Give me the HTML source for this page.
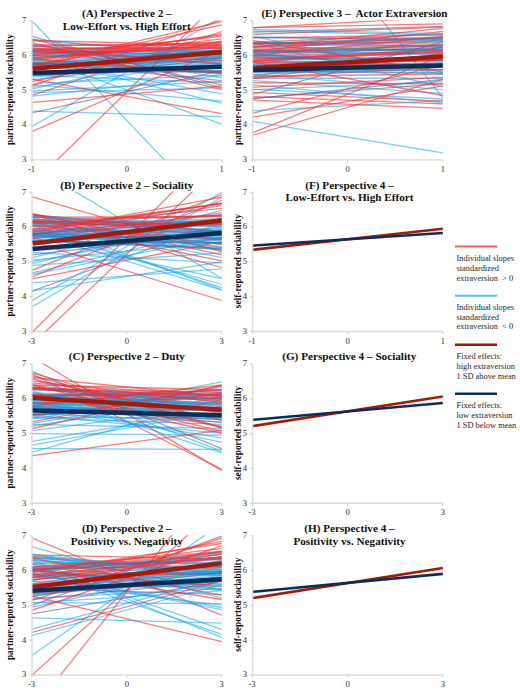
<!DOCTYPE html><html><head><meta charset="utf-8"><style>html,body{margin:0;padding:0;background:#fff}svg{display:block}</style></head><body>
<svg width="520" height="692" viewBox="0 0 520 692">
<rect width="520" height="692" fill="#fff"/>
<clipPath id="clipA"><rect x="32.7" y="20.2" width="190.0" height="139.5"/></clipPath>
<g stroke="#d9d9d9" stroke-width="1.4" fill="none">
<path d="M32.0 20.7V159.89999999999998H221.7"/>
<path d="M29.5 159.9H32.0"/>
<path d="M29.5 125.1H32.0"/>
<path d="M29.5 90.3H32.0"/>
<path d="M29.5 55.5H32.0"/>
<path d="M29.5 20.7H32.0"/>
<path d="M32.0 159.89999999999998V162.39999999999998"/>
<path d="M126.8 159.89999999999998V162.39999999999998"/>
<path d="M221.7 159.89999999999998V162.39999999999998"/>
</g>
<g font-family="Liberation Serif" font-size="8.6" fill="#2e2e2e" text-anchor="end">
<text x="26.4" y="162.2">3</text>
<text x="26.4" y="127.4">4</text>
<text x="26.4" y="92.6">5</text>
<text x="26.4" y="57.8">6</text>
<text x="26.4" y="23.0">7</text>
</g>
<g font-family="Liberation Serif" font-size="8.6" fill="#2e2e2e" text-anchor="middle">
<text x="31.5" y="171.9">-1</text><text x="126.8" y="171.9">0</text><text x="221.7" y="171.9">1</text>
</g>
<text transform="translate(13.3 89.6) rotate(-90)" font-family="Liberation Serif" font-weight="bold" font-size="9.35" fill="#111" text-anchor="middle">partner-reported sociability</text>
<g clip-path="url(#clipA)" fill="none">
<path d="M32.0 71.5L221.7 65.6" stroke="#18a8ec" stroke-opacity="0.6" stroke-width="1.45"/>
<path d="M32.0 63.8L221.7 60.8" stroke="#18a8ec" stroke-opacity="0.6" stroke-width="1.45"/>
<path d="M32.0 65.2L221.7 62.6" stroke="#18a8ec" stroke-opacity="0.6" stroke-width="1.45"/>
<path d="M32.0 54.6L221.7 58.2" stroke="#18a8ec" stroke-opacity="0.6" stroke-width="1.45"/>
<path d="M32.0 92.7L221.7 87.9" stroke="#18a8ec" stroke-opacity="0.58" stroke-width="1.3"/>
<path d="M32.0 58.2L221.7 42.7" stroke="#18a8ec" stroke-opacity="0.6" stroke-width="1.45"/>
<path d="M32.0 77.4L221.7 56.5" stroke="#18a8ec" stroke-opacity="0.58" stroke-width="1.3"/>
<path d="M32.0 53.4L221.7 50.9" stroke="#18a8ec" stroke-opacity="0.6" stroke-width="1.45"/>
<path d="M32.0 52.8L221.7 55.3" stroke="#18a8ec" stroke-opacity="0.6" stroke-width="1.45"/>
<path d="M32.0 52.7L221.7 57.2" stroke="#18a8ec" stroke-opacity="0.6" stroke-width="1.45"/>
<path d="M32.0 83.7L221.7 75.0" stroke="#18a8ec" stroke-opacity="0.58" stroke-width="1.3"/>
<path d="M32.0 64.1L221.7 51.0" stroke="#18a8ec" stroke-opacity="0.6" stroke-width="1.45"/>
<path d="M32.0 68.8L221.7 58.0" stroke="#4a62a0" stroke-opacity="0.5" stroke-width="1.45"/>
<path d="M32.0 96.2L221.7 75.7" stroke="#18a8ec" stroke-opacity="0.58" stroke-width="1.3"/>
<path d="M32.0 67.9L221.7 56.9" stroke="#18a8ec" stroke-opacity="0.6" stroke-width="1.45"/>
<path d="M32.0 84.7L221.7 101.1" stroke="#18a8ec" stroke-opacity="0.58" stroke-width="1.25"/>
<path d="M32.0 64.4L221.7 55.5" stroke="#18a8ec" stroke-opacity="0.6" stroke-width="1.45"/>
<path d="M32.0 49.2L221.7 56.6" stroke="#18a8ec" stroke-opacity="0.6" stroke-width="1.45"/>
<path d="M32.0 55.5L221.7 57.1" stroke="#18a8ec" stroke-opacity="0.6" stroke-width="1.45"/>
<path d="M32.0 63.0L221.7 73.2" stroke="#18a8ec" stroke-opacity="0.6" stroke-width="1.45"/>
<path d="M32.0 50.3L221.7 50.6" stroke="#18a8ec" stroke-opacity="0.58" stroke-width="1.3"/>
<path d="M32.0 66.8L221.7 63.9" stroke="#18a8ec" stroke-opacity="0.6" stroke-width="1.45"/>
<path d="M32.0 44.4L221.7 77.8" stroke="#18a8ec" stroke-opacity="0.58" stroke-width="1.3"/>
<path d="M32.0 63.0L221.7 47.4" stroke="#18a8ec" stroke-opacity="0.6" stroke-width="1.45"/>
<path d="M32.0 91.0L221.7 81.4" stroke="#18a8ec" stroke-opacity="0.58" stroke-width="1.3"/>
<path d="M32.0 75.3L221.7 82.6" stroke="#18a8ec" stroke-opacity="0.58" stroke-width="1.3"/>
<path d="M32.0 62.8L221.7 71.2" stroke="#4a62a0" stroke-opacity="0.58" stroke-width="1.3"/>
<path d="M32.0 55.7L221.7 62.7" stroke="#18a8ec" stroke-opacity="0.6" stroke-width="1.45"/>
<path d="M32.0 46.4L221.7 52.9" stroke="#18a8ec" stroke-opacity="0.6" stroke-width="1.45"/>
<path d="M32.0 95.5L221.7 31.5" stroke="#ff2a2a" stroke-opacity="0.62" stroke-width="1.3"/>
<path d="M32.0 49.4L221.7 64.6" stroke="#18a8ec" stroke-opacity="0.6" stroke-width="1.45"/>
<path d="M32.0 61.9L221.7 80.6" stroke="#4a62a0" stroke-opacity="0.58" stroke-width="1.3"/>
<path d="M32.0 55.8L221.7 124.1" stroke="#18a8ec" stroke-opacity="0.58" stroke-width="1.25"/>
<path d="M32.0 65.0L221.7 72.6" stroke="#4a62a0" stroke-opacity="0.5" stroke-width="1.45"/>
<path d="M32.0 55.3L221.7 52.1" stroke="#18a8ec" stroke-opacity="0.6" stroke-width="1.45"/>
<path d="M32.0 65.8L221.7 66.2" stroke="#18a8ec" stroke-opacity="0.6" stroke-width="1.45"/>
<path d="M32.0 51.1L221.7 51.5" stroke="#ff2a2a" stroke-opacity="0.6" stroke-width="1.45"/>
<path d="M32.0 65.1L221.7 54.0" stroke="#4a62a0" stroke-opacity="0.5" stroke-width="1.45"/>
<path d="M32.0 81.6L221.7 40.9" stroke="#ff2a2a" stroke-opacity="0.62" stroke-width="1.3"/>
<path d="M32.0 60.2L221.7 34.9" stroke="#ff2a2a" stroke-opacity="0.6" stroke-width="1.45"/>
<path d="M32.0 54.9L221.7 48.0" stroke="#18a8ec" stroke-opacity="0.6" stroke-width="1.45"/>
<path d="M32.0 36.4L221.7 87.9" stroke="#4a62a0" stroke-opacity="0.58" stroke-width="1.25"/>
<path d="M32.0 126.5L221.7 17.2" stroke="#18a8ec" stroke-opacity="0.58" stroke-width="1.25"/>
<path d="M32.0 88.9L221.7 48.5" stroke="#18a8ec" stroke-opacity="0.58" stroke-width="1.3"/>
<path d="M32.0 64.0L221.7 50.3" stroke="#4a62a0" stroke-opacity="0.5" stroke-width="1.45"/>
<path d="M32.0 111.2L221.7 116.7" stroke="#18a8ec" stroke-opacity="0.58" stroke-width="1.25"/>
<path d="M32.0 184.6L221.7 -1.2" stroke="#ff2a2a" stroke-opacity="0.62" stroke-width="1.25"/>
<path d="M32.0 87.2L221.7 62.1" stroke="#18a8ec" stroke-opacity="0.58" stroke-width="1.3"/>
<path d="M32.0 61.1L221.7 38.8" stroke="#ff2a2a" stroke-opacity="0.62" stroke-width="1.3"/>
<path d="M32.0 46.3L221.7 53.7" stroke="#18a8ec" stroke-opacity="0.6" stroke-width="1.45"/>
<path d="M32.0 75.6L221.7 67.3" stroke="#4a62a0" stroke-opacity="0.5" stroke-width="1.45"/>
<path d="M32.0 60.0L221.7 93.8" stroke="#18a8ec" stroke-opacity="0.58" stroke-width="1.3"/>
<path d="M32.0 66.4L221.7 60.6" stroke="#4a62a0" stroke-opacity="0.5" stroke-width="1.45"/>
<path d="M32.0 40.6L221.7 53.9" stroke="#18a8ec" stroke-opacity="0.6" stroke-width="1.45"/>
<path d="M32.0 64.2L221.7 58.5" stroke="#4a62a0" stroke-opacity="0.5" stroke-width="1.45"/>
<path d="M32.0 21.0L221.7 220.1" stroke="#18a8ec" stroke-opacity="0.58" stroke-width="1.25"/>
<path d="M32.0 131.4L221.7 49.6" stroke="#ff2a2a" stroke-opacity="0.62" stroke-width="1.25"/>
<path d="M32.0 39.4L221.7 55.2" stroke="#18a8ec" stroke-opacity="0.6" stroke-width="1.45"/>
<path d="M32.0 65.7L221.7 21.7" stroke="#ff2a2a" stroke-opacity="0.62" stroke-width="1.3"/>
<path d="M32.0 56.9L221.7 103.2" stroke="#18a8ec" stroke-opacity="0.58" stroke-width="1.3"/>
<path d="M32.0 59.5L221.7 72.8" stroke="#18a8ec" stroke-opacity="0.6" stroke-width="1.45"/>
<path d="M32.0 67.0L221.7 24.9" stroke="#ff2a2a" stroke-opacity="0.62" stroke-width="1.3"/>
<path d="M32.0 71.2L221.7 70.7" stroke="#4a62a0" stroke-opacity="0.5" stroke-width="1.45"/>
<path d="M32.0 67.5L221.7 72.0" stroke="#4a62a0" stroke-opacity="0.5" stroke-width="1.45"/>
<path d="M32.0 39.1L221.7 85.1" stroke="#ff2a2a" stroke-opacity="0.62" stroke-width="1.3"/>
<path d="M32.0 52.9L221.7 48.6" stroke="#ff2a2a" stroke-opacity="0.6" stroke-width="1.45"/>
<path d="M32.0 55.5L221.7 36.4" stroke="#ff2a2a" stroke-opacity="0.62" stroke-width="1.3"/>
<path d="M32.0 85.8L221.7 19.7" stroke="#ff2a2a" stroke-opacity="0.62" stroke-width="1.3"/>
<path d="M32.0 42.6L221.7 89.6" stroke="#ff2a2a" stroke-opacity="0.62" stroke-width="1.3"/>
<path d="M32.0 112.9L221.7 70.5" stroke="#4a62a0" stroke-opacity="0.58" stroke-width="1.25"/>
<path d="M32.0 51.7L221.7 60.7" stroke="#ff2a2a" stroke-opacity="0.62" stroke-width="1.3"/>
<path d="M32.0 57.4L221.7 45.8" stroke="#ff2a2a" stroke-opacity="0.6" stroke-width="1.45"/>
<path d="M32.0 102.5L221.7 85.8" stroke="#ff2a2a" stroke-opacity="0.62" stroke-width="1.25"/>
<path d="M32.0 44.7L221.7 45.7" stroke="#ff2a2a" stroke-opacity="0.6" stroke-width="1.45"/>
<path d="M32.0 58.6L221.7 73.6" stroke="#ff2a2a" stroke-opacity="0.62" stroke-width="1.3"/>
<path d="M32.0 72.8L221.7 71.9" stroke="#4a62a0" stroke-opacity="0.5" stroke-width="1.45"/>
<path d="M32.0 79.9L221.7 58.6" stroke="#4a62a0" stroke-opacity="0.58" stroke-width="1.3"/>
<path d="M32.0 51.1L221.7 54.6" stroke="#4a62a0" stroke-opacity="0.5" stroke-width="1.45"/>
<path d="M32.0 74.7L221.7 68.1" stroke="#4a62a0" stroke-opacity="0.5" stroke-width="1.45"/>
<path d="M32.0 47.8L221.7 63.9" stroke="#ff2a2a" stroke-opacity="0.62" stroke-width="1.3"/>
<path d="M32.0 65.2L221.7 33.6" stroke="#ff2a2a" stroke-opacity="0.62" stroke-width="1.3"/>
<path d="M32.0 51.0L221.7 41.8" stroke="#ff2a2a" stroke-opacity="0.6" stroke-width="1.45"/>
<path d="M32.0 40.5L221.7 45.1" stroke="#ff2a2a" stroke-opacity="0.62" stroke-width="1.3"/>
<path d="M32.0 79.2L221.7 113.6" stroke="#ff2a2a" stroke-opacity="0.62" stroke-width="1.25"/>
<path d="M32.0 46.1L221.7 43.0" stroke="#ff2a2a" stroke-opacity="0.62" stroke-width="1.3"/>
<path d="M32.0 49.5L221.7 47.8" stroke="#ff2a2a" stroke-opacity="0.6" stroke-width="1.45"/>
<path d="M32.0 58.5L221.7 44.3" stroke="#ff2a2a" stroke-opacity="0.6" stroke-width="1.45"/>
<path d="M32.0 48.9L221.7 47.1" stroke="#ff2a2a" stroke-opacity="0.62" stroke-width="1.3"/>
</g>
<path d="M32.7 68.72L221.7 52.02" stroke="#a41a06" stroke-width="4.5" stroke-linecap="butt"/>
<path d="M32.7 72.90L221.7 66.81" stroke="#0c2d58" stroke-width="4.5" stroke-linecap="butt"/>
<g font-family="Liberation Serif" font-weight="bold" font-size="11.2" fill="#111" text-anchor="middle">
<text x="126.8" y="16.9">(A) Perspective 2 –</text>
<text x="126.8" y="29.5">Low-Effort vs. High Effort</text>
</g>
<clipPath id="clipB"><rect x="32.7" y="191.8" width="190.0" height="139.5"/></clipPath>
<g stroke="#d9d9d9" stroke-width="1.4" fill="none">
<path d="M32.0 192.3V331.5H221.7"/>
<path d="M29.5 331.5H32.0"/>
<path d="M29.5 296.7H32.0"/>
<path d="M29.5 261.9H32.0"/>
<path d="M29.5 227.1H32.0"/>
<path d="M29.5 192.3H32.0"/>
<path d="M32.0 331.5V334.0"/>
<path d="M126.8 331.5V334.0"/>
<path d="M221.7 331.5V334.0"/>
</g>
<g font-family="Liberation Serif" font-size="8.6" fill="#2e2e2e" text-anchor="end">
<text x="26.4" y="333.8">3</text>
<text x="26.4" y="299.0">4</text>
<text x="26.4" y="264.2">5</text>
<text x="26.4" y="229.4">6</text>
<text x="26.4" y="194.6">7</text>
</g>
<g font-family="Liberation Serif" font-size="8.6" fill="#2e2e2e" text-anchor="middle">
<text x="31.5" y="343.5">-3</text><text x="126.8" y="343.5">0</text><text x="221.7" y="343.5">3</text>
</g>
<text transform="translate(13.3 261.2) rotate(-90)" font-family="Liberation Serif" font-weight="bold" font-size="9.35" fill="#111" text-anchor="middle">partner-reported sociability</text>
<g clip-path="url(#clipB)" fill="none">
<path d="M32.0 252.5L221.7 262.9" stroke="#18a8ec" stroke-opacity="0.58" stroke-width="1.3"/>
<path d="M32.0 225.2L221.7 243.1" stroke="#18a8ec" stroke-opacity="0.6" stroke-width="1.45"/>
<path d="M32.0 166.2L221.7 278.3" stroke="#18a8ec" stroke-opacity="0.58" stroke-width="1.25"/>
<path d="M32.0 261.6L221.7 226.4" stroke="#18a8ec" stroke-opacity="0.58" stroke-width="1.3"/>
<path d="M32.0 238.8L221.7 249.3" stroke="#18a8ec" stroke-opacity="0.6" stroke-width="1.45"/>
<path d="M32.0 218.9L221.7 236.0" stroke="#18a8ec" stroke-opacity="0.6" stroke-width="1.45"/>
<path d="M32.0 263.6L221.7 218.1" stroke="#18a8ec" stroke-opacity="0.58" stroke-width="1.3"/>
<path d="M32.0 237.4L221.7 237.4" stroke="#18a8ec" stroke-opacity="0.6" stroke-width="1.45"/>
<path d="M32.0 216.3L221.7 233.7" stroke="#18a8ec" stroke-opacity="0.6" stroke-width="1.45"/>
<path d="M32.0 273.0L221.7 228.8" stroke="#18a8ec" stroke-opacity="0.58" stroke-width="1.3"/>
<path d="M32.0 291.1L221.7 222.6" stroke="#4a62a0" stroke-opacity="0.58" stroke-width="1.25"/>
<path d="M32.0 237.0L221.7 243.4" stroke="#18a8ec" stroke-opacity="0.6" stroke-width="1.45"/>
<path d="M32.0 219.8L221.7 289.7" stroke="#18a8ec" stroke-opacity="0.58" stroke-width="1.25"/>
<path d="M32.0 260.2L221.7 242.1" stroke="#18a8ec" stroke-opacity="0.58" stroke-width="1.3"/>
<path d="M32.0 247.0L221.7 239.2" stroke="#18a8ec" stroke-opacity="0.6" stroke-width="1.45"/>
<path d="M32.0 306.8L221.7 197.2" stroke="#18a8ec" stroke-opacity="0.58" stroke-width="1.25"/>
<path d="M32.0 214.6L221.7 232.7" stroke="#18a8ec" stroke-opacity="0.6" stroke-width="1.45"/>
<path d="M32.0 241.9L221.7 240.8" stroke="#18a8ec" stroke-opacity="0.6" stroke-width="1.45"/>
<path d="M32.0 282.8L221.7 268.9" stroke="#18a8ec" stroke-opacity="0.58" stroke-width="1.25"/>
<path d="M32.0 217.7L221.7 257.7" stroke="#18a8ec" stroke-opacity="0.58" stroke-width="1.3"/>
<path d="M32.0 242.5L221.7 231.7" stroke="#18a8ec" stroke-opacity="0.6" stroke-width="1.45"/>
<path d="M32.0 229.9L221.7 284.5" stroke="#18a8ec" stroke-opacity="0.58" stroke-width="1.25"/>
<path d="M32.0 265.4L221.7 252.9" stroke="#18a8ec" stroke-opacity="0.58" stroke-width="1.3"/>
<path d="M32.0 235.9L221.7 219.1" stroke="#4a62a0" stroke-opacity="0.5" stroke-width="1.45"/>
<path d="M32.0 233.9L221.7 234.1" stroke="#18a8ec" stroke-opacity="0.6" stroke-width="1.45"/>
<path d="M32.0 217.1L221.7 226.8" stroke="#18a8ec" stroke-opacity="0.6" stroke-width="1.45"/>
<path d="M32.0 223.6L221.7 220.6" stroke="#18a8ec" stroke-opacity="0.6" stroke-width="1.45"/>
<path d="M32.0 222.5L221.7 224.4" stroke="#18a8ec" stroke-opacity="0.6" stroke-width="1.45"/>
<path d="M32.0 235.1L221.7 243.9" stroke="#4a62a0" stroke-opacity="0.5" stroke-width="1.45"/>
<path d="M32.0 270.3L221.7 194.7" stroke="#ff2a2a" stroke-opacity="0.62" stroke-width="1.3"/>
<path d="M32.0 248.6L221.7 235.3" stroke="#18a8ec" stroke-opacity="0.6" stroke-width="1.45"/>
<path d="M32.0 225.5L221.7 223.3" stroke="#ff2a2a" stroke-opacity="0.6" stroke-width="1.45"/>
<path d="M32.0 196.8L221.7 251.8" stroke="#ff2a2a" stroke-opacity="0.62" stroke-width="1.25"/>
<path d="M32.0 225.4L221.7 239.3" stroke="#ff2a2a" stroke-opacity="0.62" stroke-width="1.3"/>
<path d="M32.0 237.5L221.7 278.6" stroke="#18a8ec" stroke-opacity="0.58" stroke-width="1.25"/>
<path d="M32.0 279.0L221.7 241.7" stroke="#ff2a2a" stroke-opacity="0.62" stroke-width="1.25"/>
<path d="M32.0 221.0L221.7 244.5" stroke="#ff2a2a" stroke-opacity="0.62" stroke-width="1.3"/>
<path d="M32.0 228.7L221.7 231.1" stroke="#4a62a0" stroke-opacity="0.5" stroke-width="1.45"/>
<path d="M32.0 274.4L221.7 236.8" stroke="#18a8ec" stroke-opacity="0.58" stroke-width="1.3"/>
<path d="M32.0 240.7L221.7 248.9" stroke="#4a62a0" stroke-opacity="0.5" stroke-width="1.45"/>
<path d="M32.0 221.9L221.7 226.4" stroke="#18a8ec" stroke-opacity="0.6" stroke-width="1.45"/>
<path d="M32.0 232.7L221.7 197.2" stroke="#ff2a2a" stroke-opacity="0.62" stroke-width="1.3"/>
<path d="M32.0 222.2L221.7 260.9" stroke="#ff2a2a" stroke-opacity="0.62" stroke-width="1.3"/>
<path d="M32.0 232.1L221.7 219.4" stroke="#ff2a2a" stroke-opacity="0.6" stroke-width="1.45"/>
<path d="M32.0 214.9L221.7 231.6" stroke="#4a62a0" stroke-opacity="0.58" stroke-width="1.3"/>
<path d="M32.0 238.9L221.7 212.8" stroke="#ff2a2a" stroke-opacity="0.62" stroke-width="1.3"/>
<path d="M32.0 249.0L221.7 239.3" stroke="#18a8ec" stroke-opacity="0.6" stroke-width="1.45"/>
<path d="M32.0 257.7L221.7 210.4" stroke="#18a8ec" stroke-opacity="0.58" stroke-width="1.3"/>
<path d="M32.0 214.2L221.7 250.4" stroke="#ff2a2a" stroke-opacity="0.62" stroke-width="1.3"/>
<path d="M32.0 225.4L221.7 287.7" stroke="#18a8ec" stroke-opacity="0.58" stroke-width="1.25"/>
<path d="M32.0 344.4L221.7 163.8" stroke="#ff2a2a" stroke-opacity="0.62" stroke-width="1.25"/>
<path d="M32.0 213.5L221.7 254.9" stroke="#ff2a2a" stroke-opacity="0.62" stroke-width="1.3"/>
<path d="M32.0 226.8L221.7 208.3" stroke="#ff2a2a" stroke-opacity="0.62" stroke-width="1.3"/>
<path d="M32.0 230.8L221.7 232.5" stroke="#4a62a0" stroke-opacity="0.5" stroke-width="1.45"/>
<path d="M32.0 234.6L221.7 214.5" stroke="#4a62a0" stroke-opacity="0.5" stroke-width="1.45"/>
<path d="M32.0 232.3L221.7 290.1" stroke="#18a8ec" stroke-opacity="0.58" stroke-width="1.25"/>
<path d="M32.0 236.1L221.7 228.2" stroke="#18a8ec" stroke-opacity="0.6" stroke-width="1.45"/>
<path d="M32.0 300.5L221.7 192.3" stroke="#18a8ec" stroke-opacity="0.58" stroke-width="1.25"/>
<path d="M32.0 254.9L221.7 232.5" stroke="#4a62a0" stroke-opacity="0.58" stroke-width="1.3"/>
<path d="M32.0 217.2L221.7 216.7" stroke="#ff2a2a" stroke-opacity="0.6" stroke-width="1.45"/>
<path d="M32.0 219.8L221.7 215.6" stroke="#ff2a2a" stroke-opacity="0.62" stroke-width="1.3"/>
<path d="M32.0 221.2L221.7 222.3" stroke="#ff2a2a" stroke-opacity="0.6" stroke-width="1.45"/>
<path d="M32.0 224.4L221.7 218.8" stroke="#18a8ec" stroke-opacity="0.6" stroke-width="1.45"/>
<path d="M32.0 228.8L221.7 203.4" stroke="#ff2a2a" stroke-opacity="0.62" stroke-width="1.3"/>
<path d="M32.0 231.5L221.7 203.6" stroke="#ff2a2a" stroke-opacity="0.6" stroke-width="1.45"/>
<path d="M32.0 221.2L221.7 230.5" stroke="#4a62a0" stroke-opacity="0.58" stroke-width="1.3"/>
<path d="M32.0 233.6L221.7 231.4" stroke="#4a62a0" stroke-opacity="0.5" stroke-width="1.45"/>
<path d="M32.0 231.2L221.7 250.0" stroke="#18a8ec" stroke-opacity="0.6" stroke-width="1.45"/>
<path d="M32.0 242.0L221.7 223.9" stroke="#18a8ec" stroke-opacity="0.6" stroke-width="1.45"/>
<path d="M32.0 237.3L221.7 235.1" stroke="#18a8ec" stroke-opacity="0.6" stroke-width="1.45"/>
<path d="M32.0 230.5L221.7 246.8" stroke="#18a8ec" stroke-opacity="0.6" stroke-width="1.45"/>
<path d="M32.0 222.4L221.7 215.5" stroke="#ff2a2a" stroke-opacity="0.6" stroke-width="1.45"/>
<path d="M32.0 235.7L221.7 243.5" stroke="#18a8ec" stroke-opacity="0.6" stroke-width="1.45"/>
<path d="M32.0 290.8L221.7 261.9" stroke="#18a8ec" stroke-opacity="0.58" stroke-width="1.25"/>
<path d="M32.0 224.6L221.7 237.6" stroke="#18a8ec" stroke-opacity="0.6" stroke-width="1.45"/>
<path d="M32.0 223.3L221.7 247.3" stroke="#18a8ec" stroke-opacity="0.58" stroke-width="1.3"/>
<path d="M32.0 217.3L221.7 223.9" stroke="#18a8ec" stroke-opacity="0.6" stroke-width="1.45"/>
<path d="M32.0 234.0L221.7 239.5" stroke="#4a62a0" stroke-opacity="0.5" stroke-width="1.45"/>
<path d="M32.0 332.5L221.7 142.9" stroke="#ff2a2a" stroke-opacity="0.62" stroke-width="1.25"/>
<path d="M32.0 241.4L221.7 242.7" stroke="#4a62a0" stroke-opacity="0.5" stroke-width="1.45"/>
<path d="M32.0 234.8L221.7 205.5" stroke="#4a62a0" stroke-opacity="0.58" stroke-width="1.3"/>
<path d="M32.0 233.6L221.7 221.9" stroke="#4a62a0" stroke-opacity="0.5" stroke-width="1.45"/>
<path d="M32.0 236.0L221.7 238.2" stroke="#4a62a0" stroke-opacity="0.5" stroke-width="1.45"/>
<path d="M32.0 276.9L221.7 200.3" stroke="#ff2a2a" stroke-opacity="0.62" stroke-width="1.3"/>
<path d="M32.0 240.1L221.7 247.9" stroke="#4a62a0" stroke-opacity="0.5" stroke-width="1.45"/>
<path d="M32.0 241.4L221.7 300.5" stroke="#ff2a2a" stroke-opacity="0.62" stroke-width="1.25"/>
<path d="M32.0 230.2L221.7 203.5" stroke="#ff2a2a" stroke-opacity="0.6" stroke-width="1.45"/>
<path d="M32.0 214.6L221.7 267.5" stroke="#ff2a2a" stroke-opacity="0.62" stroke-width="1.25"/>
<path d="M32.0 223.3L221.7 225.3" stroke="#ff2a2a" stroke-opacity="0.6" stroke-width="1.45"/>
<path d="M32.0 220.6L221.7 224.3" stroke="#ff2a2a" stroke-opacity="0.62" stroke-width="1.3"/>
</g>
<path d="M32.7 243.60L221.7 220.49" stroke="#a41a06" stroke-width="4.5" stroke-linecap="butt"/>
<path d="M32.7 249.09L221.7 233.02" stroke="#0c2d58" stroke-width="4.5" stroke-linecap="butt"/>
<g font-family="Liberation Serif" font-weight="bold" font-size="11.2" fill="#111" text-anchor="middle">
<text x="126.8" y="188.5" xml:space="preserve">(B) Perspective 2 – Sociality</text>
</g>
<clipPath id="clipC"><rect x="32.7" y="363.6" width="190.0" height="139.5"/></clipPath>
<g stroke="#d9d9d9" stroke-width="1.4" fill="none">
<path d="M32.0 364.1V503.3H221.7"/>
<path d="M29.5 503.3H32.0"/>
<path d="M29.5 468.5H32.0"/>
<path d="M29.5 433.7H32.0"/>
<path d="M29.5 398.9H32.0"/>
<path d="M29.5 364.1H32.0"/>
<path d="M32.0 503.3V505.8"/>
<path d="M126.8 503.3V505.8"/>
<path d="M221.7 503.3V505.8"/>
</g>
<g font-family="Liberation Serif" font-size="8.6" fill="#2e2e2e" text-anchor="end">
<text x="26.4" y="505.6">3</text>
<text x="26.4" y="470.8">4</text>
<text x="26.4" y="436.0">5</text>
<text x="26.4" y="401.2">6</text>
<text x="26.4" y="366.4">7</text>
</g>
<g font-family="Liberation Serif" font-size="8.6" fill="#2e2e2e" text-anchor="middle">
<text x="31.5" y="515.3">-3</text><text x="126.8" y="515.3">0</text><text x="221.7" y="515.3">3</text>
</g>
<text transform="translate(13.3 433.0) rotate(-90)" font-family="Liberation Serif" font-weight="bold" font-size="9.35" fill="#111" text-anchor="middle">partner-reported sociability</text>
<g clip-path="url(#clipC)" fill="none">
<path d="M32.0 415.0L221.7 433.4" stroke="#18a8ec" stroke-opacity="0.58" stroke-width="1.3"/>
<path d="M32.0 395.7L221.7 390.1" stroke="#18a8ec" stroke-opacity="0.6" stroke-width="1.45"/>
<path d="M32.0 423.3L221.7 392.3" stroke="#18a8ec" stroke-opacity="0.58" stroke-width="1.3"/>
<path d="M32.0 394.4L221.7 395.1" stroke="#18a8ec" stroke-opacity="0.6" stroke-width="1.45"/>
<path d="M32.0 448.7L221.7 449.4" stroke="#18a8ec" stroke-opacity="0.58" stroke-width="1.25"/>
<path d="M32.0 417.3L221.7 381.8" stroke="#18a8ec" stroke-opacity="0.58" stroke-width="1.3"/>
<path d="M32.0 424.4L221.7 428.5" stroke="#18a8ec" stroke-opacity="0.58" stroke-width="1.3"/>
<path d="M32.0 441.4L221.7 409.3" stroke="#18a8ec" stroke-opacity="0.58" stroke-width="1.25"/>
<path d="M32.0 417.4L221.7 418.0" stroke="#18a8ec" stroke-opacity="0.58" stroke-width="1.3"/>
<path d="M32.0 407.9L221.7 437.9" stroke="#18a8ec" stroke-opacity="0.58" stroke-width="1.25"/>
<path d="M32.0 433.7L221.7 435.1" stroke="#18a8ec" stroke-opacity="0.58" stroke-width="1.25"/>
<path d="M32.0 383.2L221.7 395.8" stroke="#4a62a0" stroke-opacity="0.58" stroke-width="1.3"/>
<path d="M32.0 414.2L221.7 408.0" stroke="#4a62a0" stroke-opacity="0.5" stroke-width="1.45"/>
<path d="M32.0 395.0L221.7 390.9" stroke="#18a8ec" stroke-opacity="0.6" stroke-width="1.45"/>
<path d="M32.0 401.0L221.7 442.4" stroke="#18a8ec" stroke-opacity="0.58" stroke-width="1.25"/>
<path d="M32.0 401.9L221.7 395.0" stroke="#4a62a0" stroke-opacity="0.5" stroke-width="1.45"/>
<path d="M32.0 407.0L221.7 409.2" stroke="#18a8ec" stroke-opacity="0.6" stroke-width="1.45"/>
<path d="M32.0 413.5L221.7 421.9" stroke="#18a8ec" stroke-opacity="0.58" stroke-width="1.3"/>
<path d="M32.0 409.7L221.7 416.6" stroke="#18a8ec" stroke-opacity="0.6" stroke-width="1.45"/>
<path d="M32.0 402.7L221.7 409.4" stroke="#18a8ec" stroke-opacity="0.6" stroke-width="1.45"/>
<path d="M32.0 403.1L221.7 422.6" stroke="#4a62a0" stroke-opacity="0.5" stroke-width="1.45"/>
<path d="M32.0 390.1L221.7 395.3" stroke="#18a8ec" stroke-opacity="0.6" stroke-width="1.45"/>
<path d="M32.0 419.1L221.7 387.1" stroke="#18a8ec" stroke-opacity="0.58" stroke-width="1.3"/>
<path d="M32.0 406.6L221.7 401.7" stroke="#18a8ec" stroke-opacity="0.6" stroke-width="1.45"/>
<path d="M32.0 399.9L221.7 408.6" stroke="#18a8ec" stroke-opacity="0.6" stroke-width="1.45"/>
<path d="M32.0 445.2L221.7 411.1" stroke="#18a8ec" stroke-opacity="0.58" stroke-width="1.25"/>
<path d="M32.0 426.0L221.7 397.9" stroke="#18a8ec" stroke-opacity="0.58" stroke-width="1.3"/>
<path d="M32.0 452.1L221.7 399.2" stroke="#18a8ec" stroke-opacity="0.58" stroke-width="1.25"/>
<path d="M32.0 414.5L221.7 407.3" stroke="#18a8ec" stroke-opacity="0.6" stroke-width="1.45"/>
<path d="M32.0 404.3L221.7 417.3" stroke="#18a8ec" stroke-opacity="0.6" stroke-width="1.45"/>
<path d="M32.0 387.1L221.7 412.5" stroke="#4a62a0" stroke-opacity="0.58" stroke-width="1.3"/>
<path d="M32.0 417.9L221.7 424.3" stroke="#18a8ec" stroke-opacity="0.58" stroke-width="1.3"/>
<path d="M32.0 415.4L221.7 402.8" stroke="#18a8ec" stroke-opacity="0.6" stroke-width="1.45"/>
<path d="M32.0 385.1L221.7 406.9" stroke="#ff2a2a" stroke-opacity="0.6" stroke-width="1.45"/>
<path d="M32.0 406.0L221.7 394.1" stroke="#18a8ec" stroke-opacity="0.6" stroke-width="1.45"/>
<path d="M32.0 414.4L221.7 409.2" stroke="#4a62a0" stroke-opacity="0.5" stroke-width="1.45"/>
<path d="M32.0 428.5L221.7 385.1" stroke="#ff2a2a" stroke-opacity="0.62" stroke-width="1.3"/>
<path d="M32.0 399.9L221.7 408.1" stroke="#18a8ec" stroke-opacity="0.6" stroke-width="1.45"/>
<path d="M32.0 403.0L221.7 410.7" stroke="#18a8ec" stroke-opacity="0.6" stroke-width="1.45"/>
<path d="M32.0 373.8L221.7 469.2" stroke="#ff2a2a" stroke-opacity="0.62" stroke-width="1.25"/>
<path d="M32.0 403.6L221.7 398.0" stroke="#18a8ec" stroke-opacity="0.6" stroke-width="1.45"/>
<path d="M32.0 387.2L221.7 404.8" stroke="#4a62a0" stroke-opacity="0.58" stroke-width="1.3"/>
<path d="M32.0 394.9L221.7 405.3" stroke="#4a62a0" stroke-opacity="0.5" stroke-width="1.45"/>
<path d="M32.0 415.3L221.7 393.7" stroke="#ff2a2a" stroke-opacity="0.62" stroke-width="1.3"/>
<path d="M32.0 402.9L221.7 397.3" stroke="#4a62a0" stroke-opacity="0.5" stroke-width="1.45"/>
<path d="M32.0 408.4L221.7 409.5" stroke="#18a8ec" stroke-opacity="0.6" stroke-width="1.45"/>
<path d="M32.0 387.4L221.7 397.4" stroke="#ff2a2a" stroke-opacity="0.6" stroke-width="1.45"/>
<path d="M32.0 375.6L221.7 428.0" stroke="#ff2a2a" stroke-opacity="0.62" stroke-width="1.3"/>
<path d="M32.0 395.2L221.7 398.3" stroke="#ff2a2a" stroke-opacity="0.6" stroke-width="1.45"/>
<path d="M32.0 377.5L221.7 396.5" stroke="#ff2a2a" stroke-opacity="0.6" stroke-width="1.45"/>
<path d="M32.0 430.6L221.7 406.6" stroke="#18a8ec" stroke-opacity="0.58" stroke-width="1.3"/>
<path d="M32.0 390.5L221.7 452.8" stroke="#18a8ec" stroke-opacity="0.58" stroke-width="1.25"/>
<path d="M32.0 396.3L221.7 392.6" stroke="#4a62a0" stroke-opacity="0.5" stroke-width="1.45"/>
<path d="M32.0 402.2L221.7 415.5" stroke="#18a8ec" stroke-opacity="0.6" stroke-width="1.45"/>
<path d="M32.0 394.8L221.7 408.5" stroke="#18a8ec" stroke-opacity="0.6" stroke-width="1.45"/>
<path d="M32.0 392.6L221.7 400.1" stroke="#18a8ec" stroke-opacity="0.6" stroke-width="1.45"/>
<path d="M32.0 395.5L221.7 403.9" stroke="#18a8ec" stroke-opacity="0.6" stroke-width="1.45"/>
<path d="M32.0 403.8L221.7 389.5" stroke="#ff2a2a" stroke-opacity="0.62" stroke-width="1.3"/>
<path d="M32.0 397.8L221.7 403.3" stroke="#18a8ec" stroke-opacity="0.6" stroke-width="1.45"/>
<path d="M32.0 389.2L221.7 401.0" stroke="#ff2a2a" stroke-opacity="0.62" stroke-width="1.3"/>
<path d="M32.0 406.2L221.7 415.5" stroke="#4a62a0" stroke-opacity="0.5" stroke-width="1.45"/>
<path d="M32.0 407.6L221.7 419.5" stroke="#18a8ec" stroke-opacity="0.6" stroke-width="1.45"/>
<path d="M32.0 407.1L221.7 414.1" stroke="#18a8ec" stroke-opacity="0.6" stroke-width="1.45"/>
<path d="M32.0 404.7L221.7 402.4" stroke="#18a8ec" stroke-opacity="0.6" stroke-width="1.45"/>
<path d="M32.0 357.1L221.7 470.6" stroke="#ff2a2a" stroke-opacity="0.62" stroke-width="1.25"/>
<path d="M32.0 377.7L221.7 451.4" stroke="#18a8ec" stroke-opacity="0.58" stroke-width="1.25"/>
<path d="M32.0 379.1L221.7 420.1" stroke="#ff2a2a" stroke-opacity="0.62" stroke-width="1.3"/>
<path d="M32.0 395.3L221.7 394.2" stroke="#ff2a2a" stroke-opacity="0.6" stroke-width="1.45"/>
<path d="M32.0 381.2L221.7 402.7" stroke="#ff2a2a" stroke-opacity="0.62" stroke-width="1.3"/>
<path d="M32.0 400.2L221.7 393.6" stroke="#18a8ec" stroke-opacity="0.6" stroke-width="1.45"/>
<path d="M32.0 407.8L221.7 417.7" stroke="#4a62a0" stroke-opacity="0.5" stroke-width="1.45"/>
<path d="M32.0 392.6L221.7 433.0" stroke="#ff2a2a" stroke-opacity="0.62" stroke-width="1.3"/>
<path d="M32.0 385.0L221.7 431.3" stroke="#ff2a2a" stroke-opacity="0.62" stroke-width="1.3"/>
<path d="M32.0 409.9L221.7 419.8" stroke="#4a62a0" stroke-opacity="0.5" stroke-width="1.45"/>
<path d="M32.0 405.9L221.7 385.0" stroke="#ff2a2a" stroke-opacity="0.62" stroke-width="1.3"/>
<path d="M32.0 421.9L221.7 385.8" stroke="#ff2a2a" stroke-opacity="0.62" stroke-width="1.3"/>
<path d="M32.0 371.4L221.7 448.7" stroke="#4a62a0" stroke-opacity="0.58" stroke-width="1.25"/>
<path d="M32.0 387.7L221.7 399.5" stroke="#4a62a0" stroke-opacity="0.5" stroke-width="1.45"/>
<path d="M32.0 388.1L221.7 408.1" stroke="#4a62a0" stroke-opacity="0.5" stroke-width="1.45"/>
<path d="M32.0 394.7L221.7 426.4" stroke="#ff2a2a" stroke-opacity="0.62" stroke-width="1.3"/>
<path d="M32.0 388.6L221.7 392.2" stroke="#ff2a2a" stroke-opacity="0.6" stroke-width="1.45"/>
<path d="M32.0 372.8L221.7 427.3" stroke="#ff2a2a" stroke-opacity="0.62" stroke-width="1.3"/>
<path d="M32.0 388.7L221.7 394.7" stroke="#ff2a2a" stroke-opacity="0.6" stroke-width="1.45"/>
<path d="M32.0 455.6L221.7 430.2" stroke="#ff2a2a" stroke-opacity="0.62" stroke-width="1.25"/>
<path d="M32.0 384.9L221.7 389.8" stroke="#ff2a2a" stroke-opacity="0.6" stroke-width="1.45"/>
</g>
<path d="M32.7 397.86L221.7 409.69" stroke="#a41a06" stroke-width="4.5" stroke-linecap="butt"/>
<path d="M32.7 410.38L221.7 415.26" stroke="#0c2d58" stroke-width="4.5" stroke-linecap="butt"/>
<g font-family="Liberation Serif" font-weight="bold" font-size="11.2" fill="#111" text-anchor="middle">
<text x="126.8" y="360.3" xml:space="preserve">(C) Perspective 2 – Duty</text>
</g>
<clipPath id="clipD"><rect x="32.7" y="535.3" width="190.0" height="139.50000000000006"/></clipPath>
<g stroke="#d9d9d9" stroke-width="1.4" fill="none">
<path d="M32.0 535.8V675.0H221.7"/>
<path d="M29.5 675.0H32.0"/>
<path d="M29.5 640.2H32.0"/>
<path d="M29.5 605.4H32.0"/>
<path d="M29.5 570.6H32.0"/>
<path d="M29.5 535.8H32.0"/>
<path d="M32.0 675.0V677.5"/>
<path d="M126.8 675.0V677.5"/>
<path d="M221.7 675.0V677.5"/>
</g>
<g font-family="Liberation Serif" font-size="8.6" fill="#2e2e2e" text-anchor="end">
<text x="26.4" y="677.3">3</text>
<text x="26.4" y="642.5">4</text>
<text x="26.4" y="607.7">5</text>
<text x="26.4" y="572.9">6</text>
<text x="26.4" y="538.1">7</text>
</g>
<g font-family="Liberation Serif" font-size="8.6" fill="#2e2e2e" text-anchor="middle">
<text x="31.5" y="687.0">-3</text><text x="126.8" y="687.0">0</text><text x="221.7" y="687.0">3</text>
</g>
<text transform="translate(13.3 604.7) rotate(-90)" font-family="Liberation Serif" font-weight="bold" font-size="9.35" fill="#111" text-anchor="middle">partner-reported sociability</text>
<g clip-path="url(#clipD)" fill="none">
<path d="M32.0 655.2L221.7 523.6" stroke="#18a8ec" stroke-opacity="0.58" stroke-width="1.25"/>
<path d="M32.0 563.6L221.7 629.4" stroke="#18a8ec" stroke-opacity="0.58" stroke-width="1.25"/>
<path d="M32.0 567.3L221.7 559.8" stroke="#18a8ec" stroke-opacity="0.6" stroke-width="1.45"/>
<path d="M32.0 586.4L221.7 570.8" stroke="#18a8ec" stroke-opacity="0.6" stroke-width="1.45"/>
<path d="M32.0 584.3L221.7 584.2" stroke="#18a8ec" stroke-opacity="0.6" stroke-width="1.45"/>
<path d="M32.0 566.4L221.7 584.2" stroke="#18a8ec" stroke-opacity="0.58" stroke-width="1.3"/>
<path d="M32.0 592.1L221.7 575.6" stroke="#18a8ec" stroke-opacity="0.6" stroke-width="1.45"/>
<path d="M32.0 617.9L221.7 623.1" stroke="#18a8ec" stroke-opacity="0.58" stroke-width="1.25"/>
<path d="M32.0 574.1L221.7 607.5" stroke="#18a8ec" stroke-opacity="0.58" stroke-width="1.3"/>
<path d="M32.0 629.1L221.7 577.6" stroke="#18a8ec" stroke-opacity="0.58" stroke-width="1.25"/>
<path d="M32.0 586.7L221.7 586.5" stroke="#18a8ec" stroke-opacity="0.6" stroke-width="1.45"/>
<path d="M32.0 591.9L221.7 577.0" stroke="#18a8ec" stroke-opacity="0.6" stroke-width="1.45"/>
<path d="M32.0 597.1L221.7 556.3" stroke="#18a8ec" stroke-opacity="0.58" stroke-width="1.3"/>
<path d="M32.0 575.2L221.7 571.8" stroke="#18a8ec" stroke-opacity="0.6" stroke-width="1.45"/>
<path d="M32.0 577.6L221.7 573.2" stroke="#4a62a0" stroke-opacity="0.5" stroke-width="1.45"/>
<path d="M32.0 562.2L221.7 562.5" stroke="#18a8ec" stroke-opacity="0.6" stroke-width="1.45"/>
<path d="M32.0 598.4L221.7 588.7" stroke="#18a8ec" stroke-opacity="0.58" stroke-width="1.3"/>
<path d="M32.0 589.7L221.7 577.7" stroke="#18a8ec" stroke-opacity="0.6" stroke-width="1.45"/>
<path d="M32.0 564.7L221.7 575.8" stroke="#18a8ec" stroke-opacity="0.58" stroke-width="1.3"/>
<path d="M32.0 568.5L221.7 634.3" stroke="#18a8ec" stroke-opacity="0.58" stroke-width="1.25"/>
<path d="M32.0 594.7L221.7 578.4" stroke="#4a62a0" stroke-opacity="0.5" stroke-width="1.45"/>
<path d="M32.0 594.3L221.7 560.5" stroke="#18a8ec" stroke-opacity="0.58" stroke-width="1.3"/>
<path d="M32.0 566.8L221.7 557.2" stroke="#18a8ec" stroke-opacity="0.6" stroke-width="1.45"/>
<path d="M32.0 569.8L221.7 558.4" stroke="#4a62a0" stroke-opacity="0.5" stroke-width="1.45"/>
<path d="M32.0 570.0L221.7 589.3" stroke="#18a8ec" stroke-opacity="0.6" stroke-width="1.45"/>
<path d="M32.0 590.9L221.7 577.9" stroke="#4a62a0" stroke-opacity="0.5" stroke-width="1.45"/>
<path d="M32.0 579.3L221.7 571.6" stroke="#4a62a0" stroke-opacity="0.58" stroke-width="1.3"/>
<path d="M32.0 557.7L221.7 571.5" stroke="#18a8ec" stroke-opacity="0.6" stroke-width="1.45"/>
<path d="M32.0 546.9L221.7 598.1" stroke="#18a8ec" stroke-opacity="0.58" stroke-width="1.25"/>
<path d="M32.0 590.7L221.7 581.0" stroke="#18a8ec" stroke-opacity="0.6" stroke-width="1.45"/>
<path d="M32.0 567.2L221.7 551.5" stroke="#ff2a2a" stroke-opacity="0.6" stroke-width="1.45"/>
<path d="M32.0 553.9L221.7 589.7" stroke="#18a8ec" stroke-opacity="0.58" stroke-width="1.25"/>
<path d="M32.0 538.2L221.7 615.1" stroke="#ff2a2a" stroke-opacity="0.62" stroke-width="1.25"/>
<path d="M32.0 613.8L221.7 581.4" stroke="#4a62a0" stroke-opacity="0.58" stroke-width="1.3"/>
<path d="M32.0 675.0L221.7 504.5" stroke="#ff2a2a" stroke-opacity="0.62" stroke-width="1.25"/>
<path d="M32.0 568.5L221.7 566.6" stroke="#ff2a2a" stroke-opacity="0.6" stroke-width="1.45"/>
<path d="M32.0 567.9L221.7 567.5" stroke="#18a8ec" stroke-opacity="0.6" stroke-width="1.45"/>
<path d="M32.0 605.4L221.7 536.1" stroke="#ff2a2a" stroke-opacity="0.62" stroke-width="1.3"/>
<path d="M32.0 574.1L221.7 609.6" stroke="#18a8ec" stroke-opacity="0.58" stroke-width="1.3"/>
<path d="M32.0 584.2L221.7 573.5" stroke="#18a8ec" stroke-opacity="0.6" stroke-width="1.45"/>
<path d="M32.0 574.4L221.7 571.6" stroke="#4a62a0" stroke-opacity="0.5" stroke-width="1.45"/>
<path d="M32.0 579.9L221.7 556.8" stroke="#ff2a2a" stroke-opacity="0.6" stroke-width="1.45"/>
<path d="M32.0 589.5L221.7 571.5" stroke="#4a62a0" stroke-opacity="0.5" stroke-width="1.45"/>
<path d="M32.0 581.7L221.7 605.1" stroke="#18a8ec" stroke-opacity="0.58" stroke-width="1.3"/>
<path d="M32.0 602.9L221.7 590.8" stroke="#18a8ec" stroke-opacity="0.58" stroke-width="1.3"/>
<path d="M32.0 572.4L221.7 554.6" stroke="#ff2a2a" stroke-opacity="0.6" stroke-width="1.45"/>
<path d="M32.0 581.3L221.7 581.0" stroke="#18a8ec" stroke-opacity="0.6" stroke-width="1.45"/>
<path d="M32.0 569.8L221.7 552.8" stroke="#ff2a2a" stroke-opacity="0.6" stroke-width="1.45"/>
<path d="M32.0 560.3L221.7 573.1" stroke="#18a8ec" stroke-opacity="0.6" stroke-width="1.45"/>
<path d="M32.0 556.3L221.7 569.6" stroke="#ff2a2a" stroke-opacity="0.62" stroke-width="1.3"/>
<path d="M32.0 569.9L221.7 548.7" stroke="#ff2a2a" stroke-opacity="0.62" stroke-width="1.3"/>
<path d="M32.0 593.5L221.7 581.2" stroke="#4a62a0" stroke-opacity="0.5" stroke-width="1.45"/>
<path d="M32.0 560.2L221.7 637.4" stroke="#18a8ec" stroke-opacity="0.58" stroke-width="1.25"/>
<path d="M32.0 635.3L221.7 584.5" stroke="#18a8ec" stroke-opacity="0.58" stroke-width="1.25"/>
<path d="M32.0 587.6L221.7 568.7" stroke="#18a8ec" stroke-opacity="0.6" stroke-width="1.45"/>
<path d="M32.0 577.0L221.7 571.3" stroke="#18a8ec" stroke-opacity="0.6" stroke-width="1.45"/>
<path d="M32.0 587.4L221.7 574.2" stroke="#18a8ec" stroke-opacity="0.6" stroke-width="1.45"/>
<path d="M32.0 554.8L221.7 559.1" stroke="#ff2a2a" stroke-opacity="0.62" stroke-width="1.3"/>
<path d="M32.0 602.6L221.7 603.7" stroke="#18a8ec" stroke-opacity="0.58" stroke-width="1.3"/>
<path d="M32.0 559.5L221.7 575.6" stroke="#18a8ec" stroke-opacity="0.6" stroke-width="1.45"/>
<path d="M32.0 556.7L221.7 573.2" stroke="#18a8ec" stroke-opacity="0.6" stroke-width="1.45"/>
<path d="M32.0 577.9L221.7 551.1" stroke="#4a62a0" stroke-opacity="0.58" stroke-width="1.3"/>
<path d="M32.0 607.1L221.7 567.1" stroke="#18a8ec" stroke-opacity="0.58" stroke-width="1.3"/>
<path d="M32.0 557.9L221.7 570.1" stroke="#18a8ec" stroke-opacity="0.6" stroke-width="1.45"/>
<path d="M32.0 568.5L221.7 599.5" stroke="#ff2a2a" stroke-opacity="0.62" stroke-width="1.3"/>
<path d="M32.0 576.2L221.7 590.3" stroke="#18a8ec" stroke-opacity="0.6" stroke-width="1.45"/>
<path d="M32.0 710.8L221.7 472.5" stroke="#ff2a2a" stroke-opacity="0.62" stroke-width="1.25"/>
<path d="M32.0 573.6L221.7 566.7" stroke="#4a62a0" stroke-opacity="0.5" stroke-width="1.45"/>
<path d="M32.0 554.6L221.7 572.8" stroke="#18a8ec" stroke-opacity="0.6" stroke-width="1.45"/>
<path d="M32.0 571.7L221.7 554.3" stroke="#18a8ec" stroke-opacity="0.6" stroke-width="1.45"/>
<path d="M32.0 575.8L221.7 573.7" stroke="#ff2a2a" stroke-opacity="0.62" stroke-width="1.3"/>
<path d="M32.0 596.1L221.7 572.1" stroke="#4a62a0" stroke-opacity="0.5" stroke-width="1.45"/>
<path d="M32.0 599.5L221.7 580.8" stroke="#4a62a0" stroke-opacity="0.5" stroke-width="1.45"/>
<path d="M32.0 588.5L221.7 594.4" stroke="#4a62a0" stroke-opacity="0.5" stroke-width="1.45"/>
<path d="M32.0 632.5L221.7 581.0" stroke="#ff2a2a" stroke-opacity="0.62" stroke-width="1.25"/>
<path d="M32.0 580.2L221.7 551.8" stroke="#ff2a2a" stroke-opacity="0.6" stroke-width="1.45"/>
<path d="M32.0 572.0L221.7 543.5" stroke="#ff2a2a" stroke-opacity="0.62" stroke-width="1.3"/>
<path d="M32.0 570.2L221.7 557.5" stroke="#4a62a0" stroke-opacity="0.5" stroke-width="1.45"/>
<path d="M32.0 600.5L221.7 538.2" stroke="#ff2a2a" stroke-opacity="0.62" stroke-width="1.3"/>
<path d="M32.0 574.8L221.7 558.5" stroke="#ff2a2a" stroke-opacity="0.6" stroke-width="1.45"/>
<path d="M32.0 563.8L221.7 563.4" stroke="#ff2a2a" stroke-opacity="0.6" stroke-width="1.45"/>
<path d="M32.0 577.6L221.7 541.4" stroke="#ff2a2a" stroke-opacity="0.62" stroke-width="1.3"/>
<path d="M32.0 570.6L221.7 586.3" stroke="#ff2a2a" stroke-opacity="0.62" stroke-width="1.3"/>
<path d="M32.0 596.0L221.7 641.6" stroke="#ff2a2a" stroke-opacity="0.62" stroke-width="1.25"/>
<path d="M32.0 584.2L221.7 553.9" stroke="#ff2a2a" stroke-opacity="0.62" stroke-width="1.3"/>
<path d="M32.0 610.3L221.7 545.9" stroke="#ff2a2a" stroke-opacity="0.62" stroke-width="1.3"/>
<path d="M32.0 558.1L221.7 595.3" stroke="#ff2a2a" stroke-opacity="0.62" stroke-width="1.3"/>
</g>
<path d="M32.7 587.10L221.7 563.29" stroke="#a41a06" stroke-width="4.5" stroke-linecap="butt"/>
<path d="M32.7 590.78L221.7 579.30" stroke="#0c2d58" stroke-width="4.5" stroke-linecap="butt"/>
<g font-family="Liberation Serif" font-weight="bold" font-size="11.2" fill="#111" text-anchor="middle">
<text x="126.8" y="532.0">(D) Perspective 2 –</text>
<text x="126.8" y="544.6">Positivity vs. Negativity</text>
</g>
<clipPath id="clipE"><rect x="253.29999999999998" y="20.2" width="190.50000000000003" height="139.5"/></clipPath>
<g stroke="#d9d9d9" stroke-width="1.4" fill="none">
<path d="M252.6 20.7V159.89999999999998H442.8"/>
<path d="M250.1 159.9H252.6"/>
<path d="M250.1 125.1H252.6"/>
<path d="M250.1 90.3H252.6"/>
<path d="M250.1 55.5H252.6"/>
<path d="M250.1 20.7H252.6"/>
<path d="M252.6 159.89999999999998V162.39999999999998"/>
<path d="M347.7 159.89999999999998V162.39999999999998"/>
<path d="M442.8 159.89999999999998V162.39999999999998"/>
</g>
<g font-family="Liberation Serif" font-size="8.6" fill="#2e2e2e" text-anchor="end">
<text x="247.0" y="162.2">3</text>
<text x="247.0" y="127.4">4</text>
<text x="247.0" y="92.6">5</text>
<text x="247.0" y="57.8">6</text>
<text x="247.0" y="23.0">7</text>
</g>
<g font-family="Liberation Serif" font-size="8.6" fill="#2e2e2e" text-anchor="middle">
<text x="252.1" y="171.9">-1</text><text x="347.7" y="171.9">0</text><text x="442.8" y="171.9">1</text>
</g>
<text transform="translate(240.8 89.6) rotate(-90)" font-family="Liberation Serif" font-weight="bold" font-size="9.35" fill="#111" text-anchor="middle">partner-reported sociability</text>
<g clip-path="url(#clipE)" fill="none">
<path d="M252.6 37.0L442.8 40.5" stroke="#18a8ec" stroke-opacity="0.6" stroke-width="1.45"/>
<path d="M252.6 46.7L442.8 50.8" stroke="#18a8ec" stroke-opacity="0.6" stroke-width="1.45"/>
<path d="M252.6 65.2L442.8 57.1" stroke="#18a8ec" stroke-opacity="0.6" stroke-width="1.45"/>
<path d="M252.6 60.1L442.8 57.7" stroke="#18a8ec" stroke-opacity="0.6" stroke-width="1.45"/>
<path d="M252.6 80.6L442.8 93.4" stroke="#18a8ec" stroke-opacity="0.58" stroke-width="1.3"/>
<path d="M252.6 67.3L442.8 63.1" stroke="#18a8ec" stroke-opacity="0.6" stroke-width="1.45"/>
<path d="M252.6 -144.6L442.8 97.6" stroke="#18a8ec" stroke-opacity="0.58" stroke-width="1.25"/>
<path d="M252.6 55.5L442.8 59.1" stroke="#18a8ec" stroke-opacity="0.6" stroke-width="1.45"/>
<path d="M252.6 71.5L442.8 72.5" stroke="#18a8ec" stroke-opacity="0.6" stroke-width="1.45"/>
<path d="M252.6 69.7L442.8 69.9" stroke="#18a8ec" stroke-opacity="0.6" stroke-width="1.45"/>
<path d="M252.6 57.1L442.8 53.9" stroke="#18a8ec" stroke-opacity="0.6" stroke-width="1.45"/>
<path d="M252.6 63.7L442.8 58.6" stroke="#4a62a0" stroke-opacity="0.5" stroke-width="1.45"/>
<path d="M252.6 57.3L442.8 60.1" stroke="#18a8ec" stroke-opacity="0.6" stroke-width="1.45"/>
<path d="M252.6 74.3L442.8 89.6" stroke="#18a8ec" stroke-opacity="0.58" stroke-width="1.3"/>
<path d="M252.6 71.0L442.8 66.5" stroke="#18a8ec" stroke-opacity="0.6" stroke-width="1.45"/>
<path d="M252.6 64.5L442.8 39.5" stroke="#18a8ec" stroke-opacity="0.58" stroke-width="1.3"/>
<path d="M252.6 72.4L442.8 69.9" stroke="#4a62a0" stroke-opacity="0.5" stroke-width="1.45"/>
<path d="M252.6 71.2L442.8 73.3" stroke="#18a8ec" stroke-opacity="0.6" stroke-width="1.45"/>
<path d="M252.6 43.5L442.8 38.8" stroke="#18a8ec" stroke-opacity="0.6" stroke-width="1.45"/>
<path d="M252.6 94.5L442.8 41.9" stroke="#4a62a0" stroke-opacity="0.58" stroke-width="1.3"/>
<path d="M252.6 53.0L442.8 47.5" stroke="#4a62a0" stroke-opacity="0.5" stroke-width="1.45"/>
<path d="M252.6 53.4L442.8 45.0" stroke="#4a62a0" stroke-opacity="0.5" stroke-width="1.45"/>
<path d="M252.6 50.5L442.8 50.4" stroke="#18a8ec" stroke-opacity="0.6" stroke-width="1.45"/>
<path d="M252.6 89.6L442.8 81.6" stroke="#18a8ec" stroke-opacity="0.58" stroke-width="1.3"/>
<path d="M252.6 43.4L442.8 39.3" stroke="#18a8ec" stroke-opacity="0.6" stroke-width="1.45"/>
<path d="M252.6 61.4L442.8 51.7" stroke="#ff2a2a" stroke-opacity="0.6" stroke-width="1.45"/>
<path d="M252.6 56.1L442.8 51.3" stroke="#ff2a2a" stroke-opacity="0.6" stroke-width="1.45"/>
<path d="M252.6 47.3L442.8 40.2" stroke="#18a8ec" stroke-opacity="0.6" stroke-width="1.45"/>
<path d="M252.6 89.3L442.8 99.0" stroke="#18a8ec" stroke-opacity="0.58" stroke-width="1.3"/>
<path d="M252.6 84.7L442.8 102.8" stroke="#18a8ec" stroke-opacity="0.58" stroke-width="1.3"/>
<path d="M252.6 59.7L442.8 49.2" stroke="#ff2a2a" stroke-opacity="0.62" stroke-width="1.3"/>
<path d="M252.6 61.0L442.8 49.9" stroke="#ff2a2a" stroke-opacity="0.6" stroke-width="1.45"/>
<path d="M252.6 61.7L442.8 60.8" stroke="#4a62a0" stroke-opacity="0.5" stroke-width="1.45"/>
<path d="M252.6 43.0L442.8 86.8" stroke="#18a8ec" stroke-opacity="0.58" stroke-width="1.3"/>
<path d="M252.6 96.6L442.8 103.9" stroke="#ff2a2a" stroke-opacity="0.62" stroke-width="1.3"/>
<path d="M252.6 78.2L442.8 78.2" stroke="#18a8ec" stroke-opacity="0.6" stroke-width="1.45"/>
<path d="M252.6 37.9L442.8 34.9" stroke="#ff2a2a" stroke-opacity="0.6" stroke-width="1.45"/>
<path d="M252.6 64.8L442.8 63.1" stroke="#18a8ec" stroke-opacity="0.6" stroke-width="1.45"/>
<path d="M252.6 27.7L442.8 17.2" stroke="#ff2a2a" stroke-opacity="0.62" stroke-width="1.25"/>
<path d="M252.6 66.4L442.8 60.4" stroke="#4a62a0" stroke-opacity="0.5" stroke-width="1.45"/>
<path d="M252.6 43.5L442.8 43.2" stroke="#18a8ec" stroke-opacity="0.6" stroke-width="1.45"/>
<path d="M252.6 76.5L442.8 74.0" stroke="#ff2a2a" stroke-opacity="0.6" stroke-width="1.45"/>
<path d="M252.6 121.3L442.8 152.9" stroke="#18a8ec" stroke-opacity="0.58" stroke-width="1.25"/>
<path d="M252.6 113.3L442.8 64.5" stroke="#ff2a2a" stroke-opacity="0.62" stroke-width="1.25"/>
<path d="M252.6 53.4L442.8 69.8" stroke="#4a62a0" stroke-opacity="0.58" stroke-width="1.3"/>
<path d="M252.6 45.1L442.8 45.1" stroke="#ff2a2a" stroke-opacity="0.62" stroke-width="1.3"/>
<path d="M252.6 74.6L442.8 66.6" stroke="#18a8ec" stroke-opacity="0.6" stroke-width="1.45"/>
<path d="M252.6 32.2L442.8 26.3" stroke="#4a62a0" stroke-opacity="0.58" stroke-width="1.3"/>
<path d="M252.6 76.4L442.8 47.1" stroke="#4a62a0" stroke-opacity="0.58" stroke-width="1.3"/>
<path d="M252.6 98.3L442.8 83.7" stroke="#4a62a0" stroke-opacity="0.58" stroke-width="1.25"/>
<path d="M252.6 51.3L442.8 31.5" stroke="#ff2a2a" stroke-opacity="0.62" stroke-width="1.3"/>
<path d="M252.6 55.5L442.8 36.7" stroke="#ff2a2a" stroke-opacity="0.62" stroke-width="1.3"/>
<path d="M252.6 36.4L442.8 74.6" stroke="#18a8ec" stroke-opacity="0.58" stroke-width="1.3"/>
<path d="M252.6 61.8L442.8 95.5" stroke="#ff2a2a" stroke-opacity="0.62" stroke-width="1.3"/>
<path d="M252.6 135.2L442.8 79.5" stroke="#ff2a2a" stroke-opacity="0.62" stroke-width="1.25"/>
<path d="M252.6 57.6L442.8 60.7" stroke="#4a62a0" stroke-opacity="0.58" stroke-width="1.3"/>
<path d="M252.6 66.6L442.8 62.8" stroke="#18a8ec" stroke-opacity="0.58" stroke-width="1.3"/>
<path d="M252.6 78.5L442.8 53.4" stroke="#ff2a2a" stroke-opacity="0.62" stroke-width="1.3"/>
<path d="M252.6 87.2L442.8 77.4" stroke="#ff2a2a" stroke-opacity="0.62" stroke-width="1.3"/>
<path d="M252.6 51.0L442.8 49.4" stroke="#ff2a2a" stroke-opacity="0.6" stroke-width="1.45"/>
<path d="M252.6 42.3L442.8 46.4" stroke="#18a8ec" stroke-opacity="0.6" stroke-width="1.45"/>
<path d="M252.6 132.8L442.8 55.5" stroke="#ff2a2a" stroke-opacity="0.62" stroke-width="1.25"/>
<path d="M252.6 29.4L442.8 33.6" stroke="#18a8ec" stroke-opacity="0.58" stroke-width="1.3"/>
<path d="M252.6 78.0L442.8 66.9" stroke="#ff2a2a" stroke-opacity="0.6" stroke-width="1.45"/>
<path d="M252.6 110.8L442.8 100.7" stroke="#18a8ec" stroke-opacity="0.58" stroke-width="1.25"/>
<path d="M252.6 117.1L442.8 85.8" stroke="#ff2a2a" stroke-opacity="0.62" stroke-width="1.25"/>
<path d="M252.6 51.2L442.8 46.0" stroke="#4a62a0" stroke-opacity="0.5" stroke-width="1.45"/>
<path d="M252.6 44.1L442.8 36.8" stroke="#4a62a0" stroke-opacity="0.5" stroke-width="1.45"/>
<path d="M252.6 43.9L442.8 41.8" stroke="#ff2a2a" stroke-opacity="0.6" stroke-width="1.45"/>
<path d="M252.6 40.5L442.8 72.2" stroke="#ff2a2a" stroke-opacity="0.62" stroke-width="1.3"/>
<path d="M252.6 98.7L442.8 79.5" stroke="#4a62a0" stroke-opacity="0.58" stroke-width="1.3"/>
<path d="M252.6 42.4L442.8 34.1" stroke="#ff2a2a" stroke-opacity="0.6" stroke-width="1.45"/>
<path d="M252.6 30.9L442.8 35.0" stroke="#18a8ec" stroke-opacity="0.6" stroke-width="1.45"/>
<path d="M252.6 49.2L442.8 51.3" stroke="#18a8ec" stroke-opacity="0.58" stroke-width="1.3"/>
<path d="M252.6 37.6L442.8 38.5" stroke="#4a62a0" stroke-opacity="0.5" stroke-width="1.45"/>
<path d="M252.6 55.1L442.8 47.8" stroke="#4a62a0" stroke-opacity="0.5" stroke-width="1.45"/>
<path d="M252.6 92.4L442.8 101.1" stroke="#ff2a2a" stroke-opacity="0.62" stroke-width="1.3"/>
<path d="M252.6 47.0L442.8 37.5" stroke="#ff2a2a" stroke-opacity="0.6" stroke-width="1.45"/>
<path d="M252.6 47.1L442.8 28.4" stroke="#ff2a2a" stroke-opacity="0.62" stroke-width="1.3"/>
<path d="M252.6 82.6L442.8 84.0" stroke="#ff2a2a" stroke-opacity="0.62" stroke-width="1.3"/>
<path d="M252.6 34.3L442.8 27.2" stroke="#ff2a2a" stroke-opacity="0.62" stroke-width="1.3"/>
<path d="M252.6 51.7L442.8 53.8" stroke="#4a62a0" stroke-opacity="0.5" stroke-width="1.45"/>
<path d="M252.6 66.6L442.8 59.2" stroke="#4a62a0" stroke-opacity="0.5" stroke-width="1.45"/>
<path d="M252.6 66.8L442.8 64.4" stroke="#ff2a2a" stroke-opacity="0.6" stroke-width="1.45"/>
<path d="M252.6 49.3L442.8 45.0" stroke="#ff2a2a" stroke-opacity="0.6" stroke-width="1.45"/>
<path d="M252.6 100.0L442.8 108.4" stroke="#ff2a2a" stroke-opacity="0.62" stroke-width="1.3"/>
<path d="M252.6 58.9L442.8 52.2" stroke="#ff2a2a" stroke-opacity="0.6" stroke-width="1.45"/>
<path d="M252.6 27.7L442.8 23.8" stroke="#ff2a2a" stroke-opacity="0.62" stroke-width="1.3"/>
<path d="M252.6 62.6L442.8 60.6" stroke="#ff2a2a" stroke-opacity="0.6" stroke-width="1.45"/>
<path d="M252.6 70.1L442.8 58.8" stroke="#ff2a2a" stroke-opacity="0.6" stroke-width="1.45"/>
</g>
<path d="M253.29999999999998 68.03L442.8 56.54" stroke="#a41a06" stroke-width="4.5" stroke-linecap="butt"/>
<path d="M253.29999999999998 70.12L442.8 65.59" stroke="#0c2d58" stroke-width="4.5" stroke-linecap="butt"/>
<g font-family="Liberation Serif" font-weight="bold" font-size="11.2" fill="#111" text-anchor="middle">
<text x="354.5" y="16.9" xml:space="preserve">(E) Perspective 3 –  Actor Extraversion</text>
</g>
<clipPath id="clipF"><rect x="253.29999999999998" y="191.8" width="190.50000000000003" height="139.5"/></clipPath>
<g stroke="#d9d9d9" stroke-width="1.4" fill="none">
<path d="M252.6 192.3V331.5H442.8"/>
<path d="M250.1 331.5H252.6"/>
<path d="M250.1 296.7H252.6"/>
<path d="M250.1 261.9H252.6"/>
<path d="M250.1 227.1H252.6"/>
<path d="M250.1 192.3H252.6"/>
<path d="M252.6 331.5V334.0"/>
<path d="M347.7 331.5V334.0"/>
<path d="M442.8 331.5V334.0"/>
</g>
<g font-family="Liberation Serif" font-size="8.6" fill="#2e2e2e" text-anchor="end">
<text x="247.0" y="333.8">3</text>
<text x="247.0" y="299.0">4</text>
<text x="247.0" y="264.2">5</text>
<text x="247.0" y="229.4">6</text>
<text x="247.0" y="194.6">7</text>
</g>
<g font-family="Liberation Serif" font-size="8.6" fill="#2e2e2e" text-anchor="middle">
<text x="252.1" y="343.5">-1</text><text x="347.7" y="343.5">0</text><text x="442.8" y="343.5">1</text>
</g>
<text transform="translate(240.8 261.2) rotate(-90)" font-family="Liberation Serif" font-weight="bold" font-size="9.35" fill="#111" text-anchor="middle">self-reported sociability</text>
<path d="M253.29999999999998 249.72L442.8 228.74" stroke="#a41a06" stroke-width="2.6" stroke-linecap="butt"/>
<path d="M253.29999999999998 245.61L442.8 233.02" stroke="#0c2d58" stroke-width="2.6" stroke-linecap="butt"/>
<g font-family="Liberation Serif" font-weight="bold" font-size="11.2" fill="#111" text-anchor="middle">
<text x="349.5" y="188.5">(F) Perspective 4 –</text>
<text x="349.5" y="201.1">Low-Effort vs. High Effort</text>
</g>
<clipPath id="clipG"><rect x="253.29999999999998" y="363.6" width="190.50000000000003" height="139.5"/></clipPath>
<g stroke="#d9d9d9" stroke-width="1.4" fill="none">
<path d="M252.6 364.1V503.3H442.8"/>
<path d="M250.1 503.3H252.6"/>
<path d="M250.1 468.5H252.6"/>
<path d="M250.1 433.7H252.6"/>
<path d="M250.1 398.9H252.6"/>
<path d="M250.1 364.1H252.6"/>
<path d="M252.6 503.3V505.8"/>
<path d="M347.7 503.3V505.8"/>
<path d="M442.8 503.3V505.8"/>
</g>
<g font-family="Liberation Serif" font-size="8.6" fill="#2e2e2e" text-anchor="end">
<text x="247.0" y="505.6">3</text>
<text x="247.0" y="470.8">4</text>
<text x="247.0" y="436.0">5</text>
<text x="247.0" y="401.2">6</text>
<text x="247.0" y="366.4">7</text>
</g>
<g font-family="Liberation Serif" font-size="8.6" fill="#2e2e2e" text-anchor="middle">
<text x="252.1" y="515.3">-3</text><text x="347.7" y="515.3">0</text><text x="442.8" y="515.3">3</text>
</g>
<text transform="translate(240.8 433.0) rotate(-90)" font-family="Liberation Serif" font-weight="bold" font-size="9.35" fill="#111" text-anchor="middle">self-reported sociability</text>
<path d="M253.29999999999998 426.04L442.8 396.46" stroke="#a41a06" stroke-width="2.6" stroke-linecap="butt"/>
<path d="M253.29999999999998 419.78L442.8 403.08" stroke="#0c2d58" stroke-width="2.6" stroke-linecap="butt"/>
<g font-family="Liberation Serif" font-weight="bold" font-size="11.2" fill="#111" text-anchor="middle">
<text x="349.3" y="360.3" xml:space="preserve">(G) Perspective 4 – Sociality</text>
</g>
<clipPath id="clipH"><rect x="253.29999999999998" y="535.3" width="190.50000000000003" height="139.50000000000006"/></clipPath>
<g stroke="#d9d9d9" stroke-width="1.4" fill="none">
<path d="M252.6 535.8V675.0H442.8"/>
<path d="M250.1 675.0H252.6"/>
<path d="M250.1 640.2H252.6"/>
<path d="M250.1 605.4H252.6"/>
<path d="M250.1 570.6H252.6"/>
<path d="M250.1 535.8H252.6"/>
<path d="M252.6 675.0V677.5"/>
<path d="M347.7 675.0V677.5"/>
<path d="M442.8 675.0V677.5"/>
</g>
<g font-family="Liberation Serif" font-size="8.6" fill="#2e2e2e" text-anchor="end">
<text x="247.0" y="677.3">3</text>
<text x="247.0" y="642.5">4</text>
<text x="247.0" y="607.7">5</text>
<text x="247.0" y="572.9">6</text>
<text x="247.0" y="538.1">7</text>
</g>
<g font-family="Liberation Serif" font-size="8.6" fill="#2e2e2e" text-anchor="middle">
<text x="252.1" y="687.0">-3</text><text x="347.7" y="687.0">0</text><text x="442.8" y="687.0">3</text>
</g>
<text transform="translate(240.8 604.7) rotate(-90)" font-family="Liberation Serif" font-weight="bold" font-size="9.35" fill="#111" text-anchor="middle">self-reported sociability</text>
<path d="M253.29999999999998 597.92L442.8 567.99" stroke="#a41a06" stroke-width="2.6" stroke-linecap="butt"/>
<path d="M253.29999999999998 591.83L442.8 573.91" stroke="#0c2d58" stroke-width="2.6" stroke-linecap="butt"/>
<g font-family="Liberation Serif" font-weight="bold" font-size="11.2" fill="#111" text-anchor="middle">
<text x="349.5" y="532.0">(H) Perspective 4 –</text>
<text x="349.5" y="544.6">Positivity vs. Negativity</text>
</g>
<path d="M455 246.6H497" stroke="#ff5a5a" stroke-width="2.0"/>
<g font-family="Liberation Serif" font-size="8.4" fill="#262626">
<text x="456.5" y="261.4" xml:space="preserve">Individual slopes</text>
<text x="456.5" y="271.1" xml:space="preserve">standardized</text>
<text x="456.5" y="280.8" xml:space="preserve">extraversion  &gt; 0</text>
</g>
<path d="M455 295.8H497" stroke="#4cc4f0" stroke-width="2.0"/>
<g font-family="Liberation Serif" font-size="8.4" fill="#262626">
<text x="456.5" y="310.2" xml:space="preserve">Individual slopes</text>
<text x="456.5" y="319.8" xml:space="preserve">standardized</text>
<text x="456.5" y="329.4" xml:space="preserve">extraversion  &lt; 0</text>
</g>
<path d="M455 344.7H497" stroke="#a41a06" stroke-width="2.6"/>
<g font-family="Liberation Serif" font-size="8.4" fill="#262626">
<text x="456.5" y="358.8" xml:space="preserve">Fixed effects:</text>
<text x="456.5" y="368.8" xml:space="preserve">high extraversion</text>
<text x="456.5" y="378.7" xml:space="preserve">1 SD above mean</text>
</g>
<path d="M455 393.7H497" stroke="#0c2d58" stroke-width="2.6"/>
<g font-family="Liberation Serif" font-size="8.4" fill="#262626">
<text x="456.5" y="408.1" xml:space="preserve">Fixed effects:</text>
<text x="456.5" y="418.0" xml:space="preserve">low extraversion</text>
<text x="456.5" y="427.9" xml:space="preserve">1 SD below mean</text>
</g>
</svg></body></html>
